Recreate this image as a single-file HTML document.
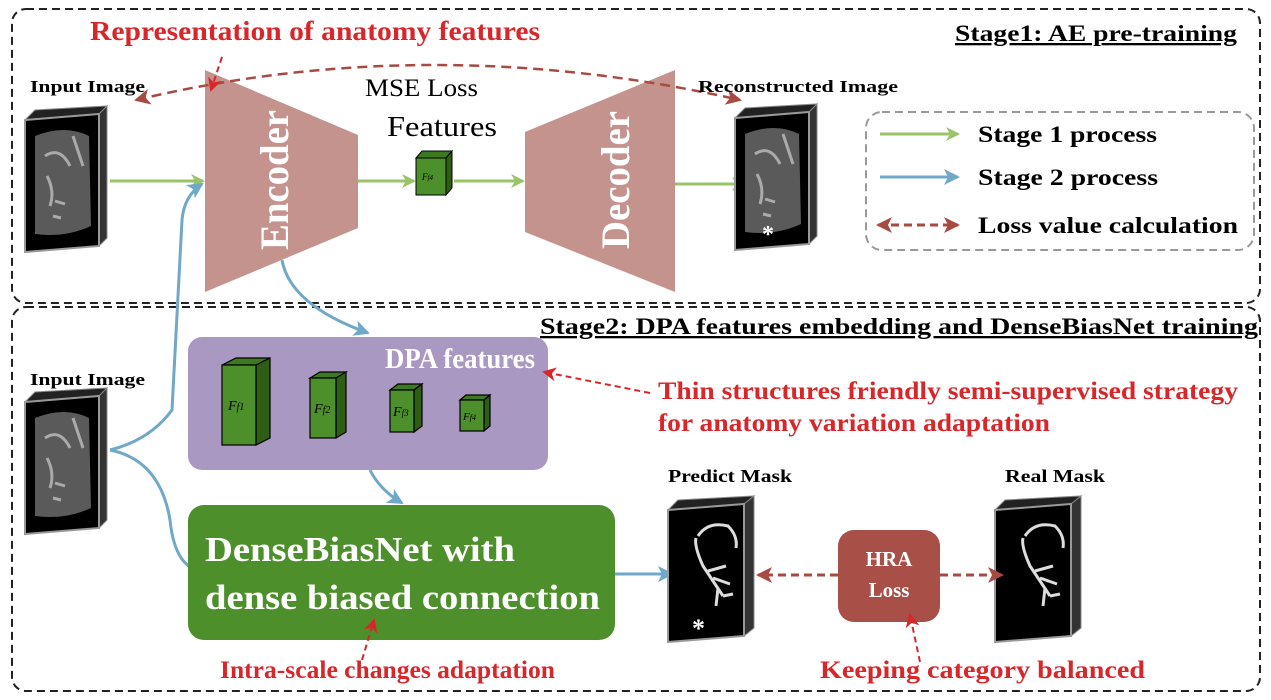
<!DOCTYPE html>
<html><head><meta charset="utf-8"><style>
html,body{margin:0;padding:0;background:#fff;}
svg{display:block;font-family:"Liberation Serif",serif;}
</style></head><body>
<svg width="1271" height="700" viewBox="0 0 1271 700" xmlns="http://www.w3.org/2000/svg">
<defs>
<marker id="ag" markerWidth="14" markerHeight="14" refX="12" refY="7" orient="auto-start-reverse" markerUnits="userSpaceOnUse"><path d="M0,0 L14,7 L0,14 L4,7 z" fill="#9bc36a"/></marker>
<marker id="ab" markerWidth="16" markerHeight="16" refX="14" refY="8" orient="auto-start-reverse" markerUnits="userSpaceOnUse"><path d="M0,0 L16,8 L0,16 L4,8 z" fill="#6fa8c8"/></marker>
<marker id="ar" markerWidth="16" markerHeight="16" refX="14" refY="8" orient="auto-start-reverse" markerUnits="userSpaceOnUse"><path d="M0,0 L16,8 L0,16 L4,8 z" fill="#a84a42"/></marker>
<marker id="arr" markerWidth="14" markerHeight="14" refX="12" refY="7" orient="auto-start-reverse" markerUnits="userSpaceOnUse"><path d="M0,0 L14,7 L0,14 L4,7 z" fill="#d9262a"/></marker>
<g id="ctimg">
<polygon points="0,14 10,4 82,0 74,8" fill="#222" stroke="#888"/>
<polygon points="74,8 82,0 82,132 74,140" fill="#333" stroke="#888"/>
<polygon points="0,14 74,8 74,140 0,146" fill="#000" stroke="#999" stroke-width="2"/>
<path d="M10,30 Q40,18 64,30 L66,120 Q40,132 10,128 Z" fill="#5a5a5a"/>
<path d="M20,50 Q35,40 45,60 M22,70 Q30,85 25,100 M48,30 L58,60 M30,95 L40,98 M28,110 L36,112" stroke="#aaa" stroke-width="3" fill="none"/>
</g>
<g id="mask">
<polygon points="0,14 10,4 86,0 76,8" fill="#222" stroke="#888"/>
<polygon points="76,8 86,0 86,132 76,140" fill="#333" stroke="#888"/>
<polygon points="0,14 76,8 76,140 0,146" fill="#000" stroke="#999" stroke-width="2"/>
<path d="M30,40 Q40,25 60,30 Q70,40 68,52 M28,42 Q26,50 35,70 Q45,85 55,100 M40,75 L58,70 M45,82 L62,88 M50,92 L48,110 M55,100 L65,98" stroke="#ddd" stroke-width="3" fill="none"/>
</g>
</defs>

<rect x="12" y="9" width="1248" height="294" rx="14" fill="none" stroke="#222" stroke-width="2" stroke-dasharray="8,5"/>
<rect x="12" y="307" width="1248" height="384" rx="14" fill="none" stroke="#222" stroke-width="2" stroke-dasharray="8,5"/>
<text x="955" y="41" textLength="282" lengthAdjust="spacingAndGlyphs" font-size="23" font-weight="bold" text-decoration="underline">Stage1: AE pre-training</text>
<text x="540" y="334" textLength="718" lengthAdjust="spacingAndGlyphs" font-size="23" font-weight="bold" text-decoration="underline">Stage2: DPA features embedding and DenseBiasNet training</text>

<text x="90" y="40" textLength="450" lengthAdjust="spacingAndGlyphs" font-size="27" font-weight="bold" fill="#d9262a">Representation of anatomy features</text>

<text x="30" y="92" textLength="115" lengthAdjust="spacingAndGlyphs" font-size="17" font-weight="bold">Input Image</text>
<use href="#ctimg" x="25" y="106"/>
<text x="365" y="96" textLength="113" lengthAdjust="spacingAndGlyphs" font-size="25">MSE Loss</text>
<text x="387" y="136" textLength="110" lengthAdjust="spacingAndGlyphs" font-size="28">Features</text>

<polygon points="205,70 358,135 358,228 205,292" fill="#c4938d"/>
<text transform="translate(288,180) rotate(-90)" text-anchor="middle" textLength="140" lengthAdjust="spacingAndGlyphs" font-size="40" font-weight="bold" fill="#fff">Encoder</text>
<polygon points="525,132 675,70 675,292 525,232" fill="#c4938d"/>
<text transform="translate(629,180) rotate(-90)" text-anchor="middle" textLength="138" lengthAdjust="spacingAndGlyphs" font-size="40" font-weight="bold" fill="#fff">Decoder</text>

<path d="M136,100 Q430,30 740,100" stroke="#a84a42" stroke-width="2.5" stroke-dasharray="10,6" fill="none" marker-end="url(#ar)" marker-start="url(#ar)"/>
<path d="M222,57 L211,90" stroke="#d9262a" stroke-width="2" stroke-dasharray="6,4" fill="none" marker-end="url(#arr)"/>

<polygon points="416,158 422,151 452,151 446,158" fill="#3d7a1f" stroke="#000"/>
<polygon points="446,158 452,151 452,188 446,195" fill="#2d5e14" stroke="#000"/>
<rect x="416" y="158" width="30" height="37" fill="#4d8f2b" stroke="#000"/>
<text x="422" y="180" font-size="9" font-style="italic">F<tspan font-size="7">f4</tspan></text>

<line x1="110" y1="181" x2="203" y2="181" stroke="#9bc36a" stroke-width="3" marker-end="url(#ag)"/>
<line x1="358" y1="181" x2="414" y2="181" stroke="#9bc36a" stroke-width="3" marker-end="url(#ag)"/>
<line x1="454" y1="181" x2="523" y2="181" stroke="#9bc36a" stroke-width="3" marker-end="url(#ag)"/>
<line x1="675" y1="184" x2="744" y2="184" stroke="#9bc36a" stroke-width="3" marker-end="url(#ag)"/>

<text x="698" y="92" textLength="200" lengthAdjust="spacingAndGlyphs" font-size="17" font-weight="bold">Reconstructed Image</text>
<use href="#ctimg" x="735" y="104"/>
<text x="762" y="242" font-size="24" fill="#fff" font-weight="bold">*</text>

<rect x="866" y="112" width="388" height="138" rx="16" fill="none" stroke="#999" stroke-width="2" stroke-dasharray="8,5"/>
<line x1="880" y1="134" x2="958" y2="134" stroke="#9bc36a" stroke-width="3" marker-end="url(#ag)"/>
<text x="978" y="142" textLength="179" lengthAdjust="spacingAndGlyphs" font-size="23" font-weight="bold">Stage 1 process</text>
<line x1="880" y1="177" x2="958" y2="177" stroke="#6fa8c8" stroke-width="3" marker-end="url(#ab)"/>
<text x="978" y="185" textLength="180" lengthAdjust="spacingAndGlyphs" font-size="23" font-weight="bold">Stage 2 process</text>
<line x1="878" y1="225" x2="958" y2="225" stroke="#a84a42" stroke-width="3" stroke-dasharray="8,5" marker-end="url(#ar)" marker-start="url(#ar)"/>
<text x="978" y="233" textLength="260" lengthAdjust="spacingAndGlyphs" font-size="23" font-weight="bold">Loss value calculation</text>

<text x="30" y="385" textLength="115" lengthAdjust="spacingAndGlyphs" font-size="17" font-weight="bold">Input Image</text>
<use href="#ctimg" x="25" y="388"/>

<path d="M110,450 Q150,440 172,410 Q178,300 182,220 Q184,196 202,184" stroke="#6fa8c8" stroke-width="3" fill="none" marker-end="url(#ab)"/>
<path d="M110,450 Q160,460 170,520 Q175,570 205,572" stroke="#6fa8c8" stroke-width="3" fill="none" marker-end="url(#ab)"/>
<path d="M282,260 Q290,305 368,333" stroke="#6fa8c8" stroke-width="3" fill="none" marker-end="url(#ab)"/>
<path d="M370,470 Q380,490 402,503" stroke="#6fa8c8" stroke-width="3" fill="none" marker-end="url(#ab)"/>
<line x1="615" y1="574" x2="672" y2="574" stroke="#6fa8c8" stroke-width="3" marker-end="url(#ab)"/>

<rect x="188" y="337" width="360" height="133" rx="14" fill="#a998c2"/>
<text x="385" y="368" textLength="150" lengthAdjust="spacingAndGlyphs" font-size="28" font-weight="bold" fill="#fff">DPA features</text>
<g stroke="#000" stroke-width="1.2">
<polygon points="222,365 236,358 270,358 256,365" fill="#3d7a1f"/><polygon points="256,365 270,358 270,438 256,445" fill="#2d5e14"/><rect x="222" y="365" width="34" height="80" fill="#4d8f2b"/>
<polygon points="310,378 320,372 346,372 336,378" fill="#3d7a1f"/><polygon points="336,378 346,372 346,432 336,438" fill="#2d5e14"/><rect x="310" y="378" width="26" height="60" fill="#4d8f2b"/>
<polygon points="390,390 398,384 422,384 414,390" fill="#3d7a1f"/><polygon points="414,390 422,384 422,426 414,432" fill="#2d5e14"/><rect x="390" y="390" width="24" height="42" fill="#4d8f2b"/>
<polygon points="460,400 466,395 490,395 484,400" fill="#3d7a1f"/><polygon points="484,400 490,395 490,426 484,431" fill="#2d5e14"/><rect x="460" y="400" width="24" height="31" fill="#4d8f2b"/>
</g>
<g font-style="italic" font-size="14"><text x="228" y="410">F<tspan font-size="10">f1</tspan></text><text x="314" y="413">F<tspan font-size="10">f2</tspan></text><text x="393" y="416">F<tspan font-size="9">f3</tspan></text><text x="463" y="420" font-size="11">F<tspan font-size="8">f4</tspan></text></g>

<path d="M650,393 L544,372" stroke="#d9262a" stroke-width="2" stroke-dasharray="6,4" fill="none" marker-end="url(#arr)"/>
<text x="658" y="399" textLength="580" lengthAdjust="spacingAndGlyphs" font-size="25" font-weight="bold" fill="#d9262a">Thin structures friendly semi-supervised strategy</text>
<text x="658" y="431" textLength="392" lengthAdjust="spacingAndGlyphs" font-size="25" font-weight="bold" fill="#d9262a">for anatomy variation adaptation</text>

<rect x="188" y="505" width="427" height="135" rx="16" fill="#4d8f2b"/>
<text x="205" y="561" textLength="310" lengthAdjust="spacingAndGlyphs" font-size="35" font-weight="bold" fill="#fff">DenseBiasNet with</text>
<text x="205" y="609" textLength="395" lengthAdjust="spacingAndGlyphs" font-size="35" font-weight="bold" fill="#fff">dense biased connection</text>
<path d="M362,660 L374,620" stroke="#d9262a" stroke-width="2" stroke-dasharray="6,4" fill="none" marker-end="url(#arr)"/>
<text x="220" y="678" textLength="335" lengthAdjust="spacingAndGlyphs" font-size="25" font-weight="bold" fill="#d9262a">Intra-scale changes adaptation</text>

<text x="668" y="482" textLength="124" lengthAdjust="spacingAndGlyphs" font-size="18" font-weight="bold">Predict Mask</text>
<use href="#mask" x="668" y="496"/>
<text x="692" y="637" font-size="26" fill="#fff" font-weight="bold">*</text>
<text x="1005" y="482" textLength="100" lengthAdjust="spacingAndGlyphs" font-size="18" font-weight="bold">Real Mask</text>
<use href="#mask" x="995" y="496"/>

<rect x="838" y="530" width="102" height="92" rx="16" fill="#a84f47"/>
<text x="889" y="566" text-anchor="middle" font-size="21" font-weight="bold" fill="#fff">HRA</text>
<text x="889" y="597" text-anchor="middle" font-size="21" font-weight="bold" fill="#fff">Loss</text>
<line x1="838" y1="575" x2="758" y2="575" stroke="#a84a42" stroke-width="3" stroke-dasharray="8,5" marker-end="url(#ar)"/>
<line x1="940" y1="575" x2="1002" y2="575" stroke="#a84a42" stroke-width="3" stroke-dasharray="8,5" marker-end="url(#ar)"/>
<path d="M920,662 L910,615" stroke="#d9262a" stroke-width="2" stroke-dasharray="6,4" fill="none" marker-end="url(#arr)"/>
<text x="820" y="678" textLength="325" lengthAdjust="spacingAndGlyphs" font-size="25" font-weight="bold" fill="#d9262a">Keeping category balanced</text>
</svg>
</body></html>
